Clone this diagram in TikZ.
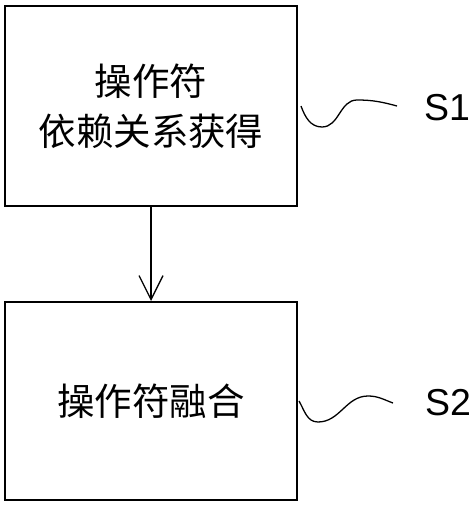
\documentclass[tikz,border=0pt]{standalone}
\usepackage{fontspec}
\setmainfont{Liberation Sans}
\newfontfamily\cjk{Noto Sans CJK SC}
\usetikzlibrary{arrows.meta, positioning, calc}
\tikzstyle{stepbox} = [%
					draw,
					rectangle,
					line width = 1.7,
					minimum width = 8.76cm,
					inner sep = 0pt,
					align = center,
					font = \cjk\fontsize{32}{43}\selectfont
					]
\tikzstyle{flow} = [%
					line width = 1.1,
					-{Straight Barb[length=0.72cm, width=0.72cm, line width=1.1]}
					]
\tikzstyle{wave} = [%
					line width = 1.1]
\tikzstyle{tag} = [%
					font = \fontsize{32}{38}\selectfont,
					inner sep = 0pt]

\begin{document}
\begin{tikzpicture}[x=0.03cm, y=-0.03cm]

		% Frame
		\useasboundingbox (0,0) rectangle (474,506);

		% Nodes
		%% Steps
		\node[stepbox, minimum height=6cm] at (151,106) (s1box) {操作符\\依赖关系获得};
		\node[stepbox, minimum height=5.94cm] at (151,401) (s2box) {操作符融合};
		%% Labels
		\node[tag] at (447,108) (s1) {S1};
		\node[tag] at (448,403) (s2) {S2};

		% Coordinates
		\coordinate (W1) at (397,106);
		\coordinate (W2) at (393,403);

		% Arrow
		\draw[flow] (s1box.south) -- (s2box.north);

		% Waves
		\draw[wave] ($(s1box.east)+(3,0)$) to[out=-70, in=180] (322,127) to[out=0, in=180] (357,100) to[out=0, in=165] (W1);
		\draw[wave] ($(s2box.east)+(1,0)$) to[out=-60, in=180] (318,422) to[out=0, in=180] (368,396) to[out=0, in=160] (W2);
	\end{tikzpicture}
\end{document}
